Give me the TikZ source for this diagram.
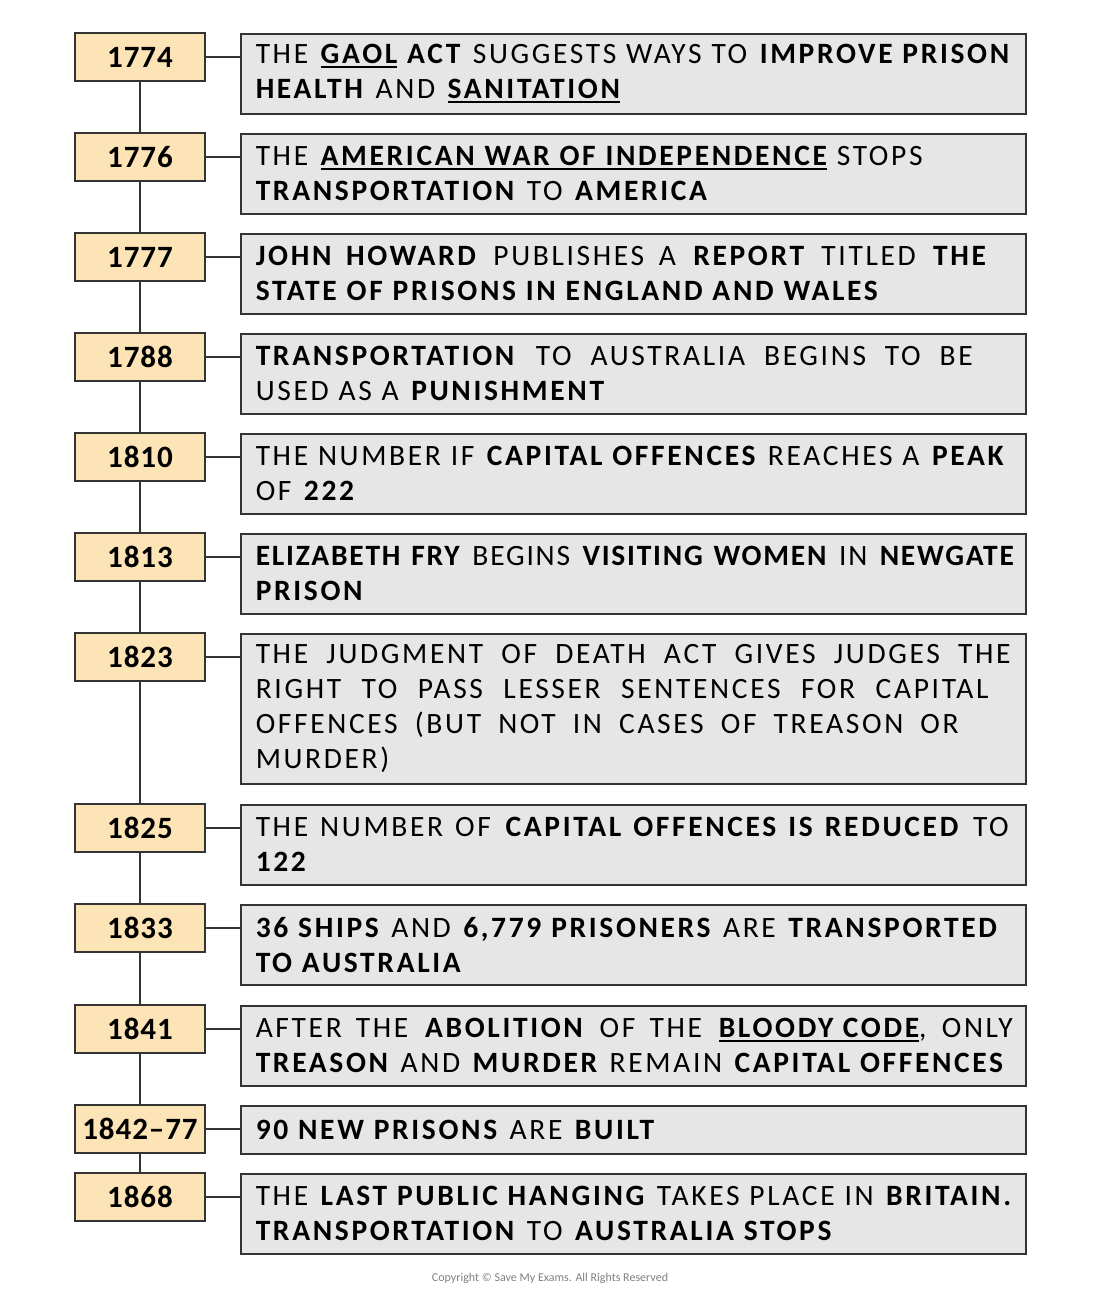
\documentclass[tikz,border=0pt]{standalone}
\usepackage{fontspec}
\setmainfont{Carlito}[LetterSpace=9]
\definecolor{yearfill}{HTML}{FDE4B6}
\definecolor{eventfill}{HTML}{E6E6E6}
\definecolor{edge}{HTML}{333333}
\newcommand{\under}[1]{\setbox0\hbox{#1}\rlap{\rule[-4pt]{\wd0}{1.5pt}}\box0\relax}
\newcommand{\spread}[2]{\makebox[#1pt][s]{\spaceskip=\fontdimen2\font plus 1fil\relax #2}}

\begin{document}
\begin{tikzpicture}[x=1pt,y=-1pt,
  year/.style={draw=edge,line width=1.5pt,fill=yearfill,minimum width=130pt,minimum height=48pt,inner sep=0pt,font=\fontsize{31}{35}\selectfont\addfontfeature{LetterSpace=3}\bfseries},
  event/.style={draw=edge,line width=1.5pt,fill=eventfill,anchor=north west,minimum height=80pt,text width=755pt,inner xsep=15pt,inner ysep=0pt,align=left,font=\fontsize{29.5}{35}\selectfont},
  link/.style={line width=1.5pt,draw=edge}]
\useasboundingbox (0,0) rectangle (1100,1293);
\node [year] (y1774) at (140,57) {1774};
\node [year] (y1776) at (140,157) {1776};
\node [year] (y1777) at (140,257) {1777};
\node [year] (y1788) at (140,357) {1788};
\node [year] (y1810) at (140,457) {1810};
\node [year] (y1813) at (140,557) {1813};
\node [year] (y1823) at (140,657) {1823};
\node [year] (y1825) at (140,828) {1825};
\node [year] (y1833) at (140,928) {1833};
\node [year] (y1841) at (140,1029) {1841};
\node [year] (y1842) at (140,1129) {1842–77};
\node [year] (y1868) at (140,1197) {1868};
\node [event] (e1774) at (240,33) {\mbox{THE \textbf{\under{GAOL} ACT} SUGGESTS WAYS TO \textbf{IMPROVE PRISON}}\\\mbox{\textbf{HEALTH} AND \textbf{\under{SANITATION}}}};
\node [event] (e1776) at (240,133) {\mbox{THE \textbf{\under{AMERICAN WAR OF INDEPENDENCE}} STOPS}\\\mbox{\textbf{TRANSPORTATION} TO \textbf{AMERICA}}};
\node [event] (e1777) at (240,233) {\spread{733}{\textbf{JOHN HOWARD} PUBLISHES A \textbf{REPORT} TITLED \textbf{THE}}\\\mbox{\textbf{STATE OF PRISONS IN ENGLAND AND WALES}}};
\node [event] (e1788) at (240,333) {\spread{717}{\textbf{TRANSPORTATION} TO AUSTRALIA BEGINS TO BE}\\\mbox{USED AS A \textbf{PUNISHMENT}}};
\node [event] (e1810) at (240,433) {\mbox{THE NUMBER IF \textbf{CAPITAL OFFENCES} REACHES A \textbf{PEAK}}\\\mbox{OF \textbf{222}}};
\node [event] (e1813) at (240,533) {\spread{760}{\addfontfeature{LetterSpace=6}\textbf{ELIZABETH FRY} BEGINS \textbf{VISITING WOMEN} IN \textbf{NEWGATE}}\\\mbox{\textbf{PRISON}}};
\node [event,minimum height=150pt] (e1823) at (240,633) {\spread{755}{THE JUDGMENT OF DEATH ACT GIVES JUDGES THE}\\\spread{733}{RIGHT TO PASS LESSER SENTENCES FOR CAPITAL}\\\spread{703}{OFFENCES (BUT NOT IN CASES OF TREASON OR}\\\mbox{MURDER)}};
\node [event] (e1825) at (240,804) {\spread{753}{THE NUMBER OF \textbf{CAPITAL OFFENCES IS REDUCED} TO}\\\mbox{\textbf{122}}};
\node [event] (e1833) at (240,904) {\mbox{\textbf{36 SHIPS} AND \textbf{6,779 PRISONERS} ARE \textbf{TRANSPORTED}}\\\mbox{\textbf{TO AUSTRALIA}}};
\node [event] (e1841) at (240,1005) {\spread{757}{AFTER THE \textbf{ABOLITION} OF THE \textbf{\under{BLOODY CODE}}, ONLY}\\\mbox{\textbf{TREASON} AND \textbf{MURDER} REMAIN \textbf{CAPITAL OFFENCES}}};
\node [event,minimum height=48pt] (e1842) at (240,1105) {\mbox{\textbf{90 NEW PRISONS} ARE \textbf{BUILT}}};
\node [event] (e1868) at (240,1173) {\mbox{THE \textbf{LAST PUBLIC HANGING} TAKES PLACE IN \textbf{BRITAIN.}}\\\mbox{\textbf{TRANSPORTATION} TO \textbf{AUSTRALIA STOPS}}};
% timeline spine
\foreach \a/\b in {1774/1776,1776/1777,1777/1788,1788/1810,1810/1813,1813/1823,1823/1825,1825/1833,1833/1841,1841/1842,1842/1868}
  \draw [link] (y\a) -- (y\b);
% year to event
\foreach \a in {1774,1776,1777,1788,1810,1813,1823,1825,1833,1841,1842,1868}
  \draw [link] (y\a.east) -- (y\a.east -| e\a.west);
\node [text=gray,font=\fontsize{12}{14}\selectfont\addfontfeature{LetterSpace=0}] (copy) at (550,1278) {Copyright © Save My Exams. All Rights Reserved};
\end{tikzpicture}
\end{document}
